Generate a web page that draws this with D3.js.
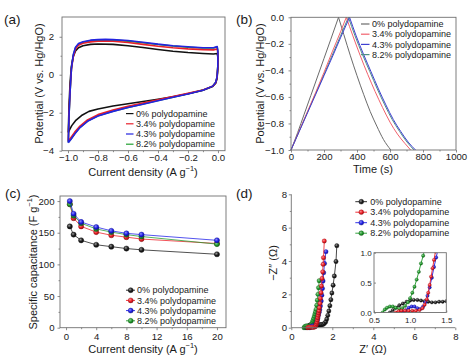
<!DOCTYPE html>
<html><head><meta charset="utf-8">
<script src="https://cdn.jsdelivr.net/npm/d3@7"></script>
<style>body{margin:0;background:#fff}svg{display:block}</style>
</head><body>
<svg id="c" width="474" height="362"></svg>
<script>
// ---------------- DATA ----------------
const seriesNames = ["0% polydopamine", "3.4% polydopamine", "4.3% polydopamine", "8.2% polydopamine"];

// (a) CV loops [x, y]
const cv0 = [[-0.998,-3.04],[-0.993,-1.6],[-0.986,-0.4],[-0.977,0.45],[-0.965,0.95],[-0.95,1.25],[-0.93,1.42],[-0.9,1.53],[-0.85,1.6],[-0.8,1.62],[-0.7,1.6],[-0.6,1.53],[-0.5,1.43],[-0.4,1.33],[-0.3,1.24],[-0.2,1.17],[-0.1,1.12],[-0.03,1.09],[-0.005,1.12],[0,0.9],[-0.001,0.3],[-0.006,-0.2],[-0.015,-0.45],[-0.035,-0.62],[-0.1,-0.82],[-0.2,-1.0],[-0.3,-1.16],[-0.4,-1.29],[-0.5,-1.41],[-0.6,-1.53],[-0.7,-1.65],[-0.8,-1.8],[-0.86,-1.93],[-0.91,-2.15],[-0.95,-2.42],[-0.975,-2.68],[-0.99,-2.9],[-0.998,-3.04]];
const cv1 = [[-0.998,-3.5],[-0.993,-2.0],[-0.986,-0.8],[-0.977,0.3],[-0.965,0.95],[-0.95,1.35],[-0.93,1.55],[-0.9,1.66],[-0.85,1.73],[-0.8,1.76],[-0.75,1.77],[-0.7,1.76],[-0.6,1.7],[-0.5,1.6],[-0.4,1.5],[-0.3,1.42],[-0.2,1.36],[-0.1,1.32],[-0.03,1.31],[-0.005,1.36],[0,1.1],[-0.001,0.4],[-0.006,-0.15],[-0.015,-0.42],[-0.035,-0.6],[-0.1,-0.8],[-0.2,-0.98],[-0.3,-1.15],[-0.4,-1.32],[-0.5,-1.49],[-0.6,-1.66],[-0.7,-1.86],[-0.8,-2.1],[-0.87,-2.38],[-0.92,-2.7],[-0.955,-3.02],[-0.98,-3.3],[-0.998,-3.5]];
const cv2 = [[-0.998,-3.58],[-0.993,-2.1],[-0.986,-0.9],[-0.977,0.35],[-0.965,1.05],[-0.95,1.45],[-0.93,1.64],[-0.9,1.74],[-0.85,1.82],[-0.8,1.85],[-0.75,1.86],[-0.7,1.85],[-0.6,1.8],[-0.5,1.71],[-0.4,1.61],[-0.3,1.53],[-0.2,1.47],[-0.1,1.42],[-0.03,1.42],[-0.005,1.48],[0,1.2],[-0.001,0.45],[-0.006,-0.12],[-0.015,-0.4],[-0.035,-0.6],[-0.1,-0.82],[-0.2,-1.01],[-0.3,-1.19],[-0.4,-1.37],[-0.5,-1.55],[-0.6,-1.73],[-0.7,-1.93],[-0.8,-2.17],[-0.87,-2.45],[-0.92,-2.78],[-0.955,-3.12],[-0.98,-3.4],[-0.998,-3.58]];
const cv3 = [[-0.998,-3.55],[-0.993,-2.1],[-0.986,-0.9],[-0.977,0.33],[-0.965,1.02],[-0.95,1.42],[-0.93,1.61],[-0.9,1.71],[-0.85,1.79],[-0.8,1.82],[-0.75,1.83],[-0.7,1.82],[-0.6,1.77],[-0.5,1.68],[-0.4,1.59],[-0.3,1.51],[-0.2,1.45],[-0.1,1.41],[-0.03,1.41],[-0.005,1.46],[0,1.2],[-0.001,0.45],[-0.006,-0.12],[-0.015,-0.4],[-0.035,-0.6],[-0.1,-0.81],[-0.2,-1.0],[-0.3,-1.18],[-0.4,-1.36],[-0.5,-1.54],[-0.6,-1.72],[-0.7,-1.92],[-0.8,-2.16],[-0.87,-2.44],[-0.92,-2.77],[-0.955,-3.1],[-0.98,-3.38],[-0.998,-3.55]];

// (b) GCD curves [time, potential]
const gcd0 = [[0,-1],[40,-0.87],[80,-0.73],[120,-0.59],[160,-0.45],[200,-0.31],[240,-0.17],[288,0],[320,-0.13],[360,-0.29],[400,-0.44],[440,-0.58],[480,-0.71],[520,-0.82],[560,-0.92],[605,-1.0]];
const gcd1 = [[0,-1],[50,-0.855],[100,-0.71],[150,-0.565],[200,-0.415],[250,-0.26],[300,-0.11],[335,0],[375,-0.14],[420,-0.29],[465,-0.43],[510,-0.56],[555,-0.68],[600,-0.79],[645,-0.88],[690,-0.95],[725,-1.0]];
const gcd2 = [[0,-1],[50,-0.86],[100,-0.72],[150,-0.58],[200,-0.44],[250,-0.3],[300,-0.155],[355,0],[395,-0.14],[440,-0.28],[485,-0.41],[530,-0.54],[575,-0.66],[620,-0.77],[665,-0.86],[710,-0.94],[755,-1.0]];
const gcd3 = [[0,-1],[50,-0.857],[100,-0.715],[150,-0.572],[200,-0.43],[250,-0.285],[300,-0.14],[348,0],[388,-0.14],[433,-0.28],[478,-0.41],[523,-0.54],[568,-0.66],[613,-0.77],[658,-0.86],[703,-0.94],[746,-1.0]];

// (c) rate capability
const currentDensity = [0.5, 1, 2, 4, 6, 8, 10, 20];
const cap0 = [160, 147, 138, 131, 128, 125, 123, 116];
const cap1 = [195, 173, 160, 151, 146, 143, 140, 133];
const cap2 = [200, 180, 167, 159, 153, 149, 147, 138];
const cap3 = [195, 177, 165, 156, 151, 147, 144, 132];

// (d) Nyquist [Z', -Z'']
const eis0 = [[0.72,0.0],[0.76,0.04],[0.80,0.08],[0.85,0.12],[0.90,0.15],[0.95,0.18],[1.00,0.20],[1.05,0.21],[1.10,0.21],[1.15,0.20],[1.20,0.19],[1.25,0.18],[1.30,0.17],[1.35,0.17],[1.40,0.18],[1.45,0.18],[1.50,0.19],[1.56,0.21],[1.62,0.26],[1.68,0.36],[1.73,0.52],[1.78,0.74],[1.83,1.0],[1.88,1.32],[1.93,1.68],[1.98,2.08],[2.04,2.55],[2.1,3.1],[2.18,3.97],[2.22,4.92]];
const eis1 = [[0.80,0.0],[0.84,0.02],[0.88,0.03],[0.93,0.03],[0.98,0.03],[1.03,0.03],[1.08,0.03],[1.13,0.04],[1.17,0.07],[1.20,0.13],[1.23,0.22],[1.25,0.33],[1.27,0.46],[1.29,0.6],[1.31,0.74],[1.33,0.88],[1.35,1.02],[1.37,1.2],[1.40,1.45],[1.42,1.75],[1.45,2.1],[1.47,2.5],[1.5,2.95],[1.53,3.35],[1.55,3.8],[1.57,4.2],[1.61,5.2]];
const eis2 = [[0.90,0.0],[0.94,0.04],[0.98,0.08],[1.02,0.1],[1.06,0.1],[1.10,0.07],[1.14,0.06],[1.18,0.1],[1.21,0.17],[1.24,0.28],[1.27,0.42],[1.30,0.58],[1.33,0.76],[1.36,0.92],[1.39,1.08],[1.42,1.3],[1.46,1.6],[1.49,1.95],[1.52,2.35],[1.55,2.8],[1.58,3.3],[1.62,3.85],[1.69,4.56]];
const eis3 = [[0.62,0.0],[0.65,0.05],[0.68,0.08],[0.72,0.1],[0.76,0.1],[0.80,0.08],[0.85,0.06],[0.89,0.07],[0.93,0.11],[0.97,0.17],[1.00,0.24],[1.03,0.33],[1.06,0.43],[1.09,0.55],[1.12,0.68],[1.15,0.82],[1.18,0.95],[1.21,1.1],[1.24,1.35],[1.27,1.65],[1.30,2.0],[1.33,2.4],[1.36,2.82]];

// tick values
const aXTicks = [-1.0,-0.8,-0.6,-0.4,-0.2,0.0], aYTicks = [-4,-2,0,2];
const bXTicks = [0,200,400,600,800,1000], bYTicks = [-1.0,-0.8,-0.6,-0.4,-0.2,0.0];
const cXTicks = [0,4,8,12,16,20], cYTicks = [0,50,100,150,200];
const dTicks = [0,2,4,6,8];
const insetXTicks = [0.5,1.0,1.5], insetYTicks = [0.0,0.5,1.0];

// ---------------- DRAWING ----------------
const FONT = "'Liberation Sans', Arial, Helvetica, sans-serif";
const AX = "#707070", TXT = "#1a1a1a";
const svg = d3.select("#c").style("font-family", FONT);
const defs = svg.append("defs");

const colA = ["#111111", "#e8202a", "#2323e0", "#22a030"];
const colB = ["#6b6b6b", "#f2616c", "#3f3fd2", "#4f8f86"];
const colM = ["#1a1a1a", "#ee1c24", "#1e1ee8", "#1f9a2a"];
const LF = 9; // legend font size

colM.forEach((c, i) => {
  const g = defs.append("radialGradient").attr("id", "m" + i).attr("cx", "38%").attr("cy", "35%").attr("r", "70%");
  g.append("stop").attr("offset", "0%").attr("stop-color", d3.interpolateRgb(c, "#fff")(i === 0 ? 0.55 : 0.5));
  g.append("stop").attr("offset", "55%").attr("stop-color", c);
  g.append("stop").attr("offset", "100%").attr("stop-color", d3.color(c).darker(1.6));
});

function axis(fn, scale, pos, vals, fmt, size, pad, fs, horiz) {
  const g = svg.append("g").attr("transform", horiz ? `translate(0,${pos})` : `translate(${pos},0)`)
    .call(fn(scale).tickValues(vals).tickFormat(fmt).tickSize(size).tickPadding(pad));
  g.select(".domain").remove();
  g.selectAll("line").attr("stroke", AX).attr("stroke-width", 0.8);
  g.selectAll("text").attr("fill", TXT).style("font-family", FONT).style("font-size", fs + "px");
  return g;
}
const none = () => "";
function frame(x, y) {
  const [x0, x1] = x.range(), [y0, y1] = y.range();
  svg.append("rect").attr("x", Math.min(x0, x1)).attr("y", Math.min(y0, y1))
    .attr("width", Math.abs(x1 - x0)).attr("height", Math.abs(y1 - y0))
    .attr("fill", "none").attr("stroke", AX).attr("stroke-width", 0.9);
}
function title(x, y, main, sup, after, size, rot) {
  const t = svg.append("text").attr("font-size", size).attr("fill", TXT).attr("text-anchor", "middle");
  if (rot) t.attr("transform", `translate(${x},${y}) rotate(-90)`); else t.attr("x", x).attr("y", y);
  t.append("tspan").text(main);
  if (sup) {
    t.append("tspan").attr("dy", -size * 0.42).attr("font-size", size * 0.68).text(sup);
    t.append("tspan").attr("dy", size * 0.42).text(after);
  }
}
function panelLabel(x, y, s) {
  svg.append("text").attr("x", x).attr("y", y).attr("font-size", 13.5).attr("fill", TXT).text(s);
}
const fmt1 = d3.format(".1f"), fmtD = d3.format("d");
const TF = 9.6; // tick font size

function lineLegend(x0, x1, xt, y0, step, cols) {
  seriesNames.forEach((n, i) => {
    const yy = y0 + i * step;
    svg.append("line").attr("x1", x0).attr("x2", x1).attr("y1", yy).attr("y2", yy).attr("stroke", cols[i]).attr("stroke-width", 1.2);
    svg.append("text").attr("x", xt).attr("y", yy + 3.2).attr("font-size", LF).attr("fill", TXT).text(n);
  });
}
function markerLegend(x0, x1, xm, xt, y0, step, r) {
  seriesNames.forEach((n, i) => {
    const yy = y0 + i * step;
    svg.append("line").attr("x1", x0).attr("x2", x1).attr("y1", yy).attr("y2", yy).attr("stroke", colM[i]).attr("stroke-width", 0.9);
    svg.append("circle").attr("cx", xm).attr("cy", yy).attr("r", r).attr("fill", `url(#m${i})`).attr("stroke", d3.color(colM[i]).darker(1.2)).attr("stroke-width", 0.4);
    svg.append("text").attr("x", xt).attr("y", yy + 3.2).attr("font-size", LF).attr("fill", TXT).text(n);
  });
}

// ===== (a) =====
const xa = d3.scaleLinear().domain([-1.04, 0.047]).range([62, 225]);
const ya = d3.scaleLinear().domain([-4, 3.04]).range([150.7, 17]);
const lineA = d3.line().x(d => xa(d[0])).y(d => ya(d[1]));
const cvSets = [cv0, cv1, cv2, cv3];
[3, 0, 1, 2].forEach(i => {
  svg.append("path").attr("d", lineA(cvSets[i])).attr("fill", "none")
    .attr("stroke", colA[i]).attr("stroke-width", 1.6).attr("stroke-linejoin", "round");
});
frame(xa, ya);
axis(d3.axisBottom, xa, 150.7, aXTicks, fmt1, 2.5, 0.5, TF, true);
axis(d3.axisBottom, xa, 150.7, [-0.9,-0.7,-0.5,-0.3,-0.1], none, 1.5, 0, TF, true);
axis(d3.axisLeft, ya, 62, aYTicks, fmtD, 2.5, 5.5, TF, false);
axis(d3.axisLeft, ya, 62, [-3,-1,1], none, 1.5, 0, TF, false);
title(143, 175.5, "Current density (A g", "\u22121", ")", 11, false);
title(43, 83.5, "Potential (V vs. Hg/HgO)", null, null, 11, true);
panelLabel(4, 24, "(a)");
lineLegend(126, 133.5, 136, 113.6, 10.2, colA);

// ===== (b) =====
const xb = d3.scaleLinear().domain([0, 1000]).range([291, 456]);
const yb = d3.scaleLinear().domain([-1, 0]).range([150, 17.3]);
const lineB = d3.line().x(d => xb(d[0])).y(d => yb(d[1])).curve(d3.curveMonotoneX);
const gcdSets = [gcd0, gcd1, gcd2, gcd3];
[0, 3, 1, 2].forEach(i => {
  const d = gcdSets[i];
  const k = d.findIndex(p => p[1] === 0);
  [d.slice(0, k + 1), d.slice(k)].forEach(seg => {
    svg.append("path").attr("d", lineB(seg)).attr("fill", "none").attr("stroke", colB[i]).attr("stroke-width", 1);
  });
});
frame(xb, yb);
axis(d3.axisBottom, xb, 150, bXTicks, fmtD, 2.5, 0.5, TF, true);
axis(d3.axisBottom, xb, 150, [100,300,500,700,900], none, 1.5, 0, TF, true);
axis(d3.axisLeft, yb, 291, bYTicks, fmt1, 2.5, 4.5, TF, false);
axis(d3.axisLeft, yb, 291, [-0.9,-0.7,-0.5,-0.3,-0.1], none, 1.5, 0, TF, false);
title(373, 172.5, "Time (s)", null, null, 11, false);
title(264, 83.5, "Potential (V vs. Hg/HgO)", null, null, 11, true);
panelLabel(236, 24, "(b)");
lineLegend(361, 369.5, 372, 24, 10.2, colB);

// ===== (c) =====
const xc = d3.scaleLinear().domain([-0.8, 21.2]).range([60, 226]);
const yc = d3.scaleLinear().domain([0, 208]).range([327.7, 196]);
const capSets = [cap0, cap1, cap2, cap3];
const lineC = d3.line().x((d, j) => xc(currentDensity[j])).y(d => yc(d));
[0, 1, 3, 2].forEach(i => {
  svg.append("path").attr("d", lineC(capSets[i])).attr("fill", "none").attr("stroke", colM[i]).attr("stroke-width", 0.9).attr("opacity", 0.85);
  svg.append("g").selectAll("circle").data(capSets[i]).join("circle")
    .attr("cx", (d, j) => xc(currentDensity[j])).attr("cy", d => yc(d)).attr("r", 2.6)
    .attr("fill", `url(#m${i})`).attr("stroke", d3.color(colM[i]).darker(1.2)).attr("stroke-width", 0.4);
});
frame(xc, yc);
axis(d3.axisBottom, xc, 327.7, cXTicks, fmtD, 2.5, 3, TF, true);
axis(d3.axisBottom, xc, 327.7, [2,6,10,14,18], none, 1.5, 0, TF, true);
axis(d3.axisLeft, yc, 60, cYTicks, fmtD, 2.5, 3, TF, false);
axis(d3.axisLeft, yc, 60, [25,75,125,175], none, 1.5, 0, TF, false);
title(143, 353, "Current density (A g", "\u22121", ")", 11, false);
title(36.5, 262, "Specific capacitance (F g", "\u22121", ")", 11, true);
panelLabel(5, 197.5, "(c)");
markerLegend(126, 135, 130.7, 137, 290.2, 10.2, 2.5);

// ===== (d) =====
const xd = d3.scaleLinear().domain([0, 8]).range([291.3, 455.3]);
const yd = d3.scaleLinear().domain([0, 8]).range([327.7, 194.3]);
const eisSets = [eis0, eis1, eis2, eis3];
const lineD = d3.line().x(d => xd(d[0])).y(d => yd(d[1]));
[0, 3, 2, 1].forEach(i => {
  svg.append("path").attr("d", lineD(eisSets[i])).attr("fill", "none").attr("stroke", colM[i]).attr("stroke-width", 0.8);
  svg.append("g").selectAll("circle").data(eisSets[i]).join("circle")
    .attr("cx", d => xd(d[0])).attr("cy", d => yd(d[1])).attr("r", 2.2)
    .attr("fill", `url(#m${i})`).attr("stroke", d3.color(colM[i]).darker(1.2)).attr("stroke-width", 0.3);
});
svg.append("line").attr("x1", 291.3).attr("x2", 291.3).attr("y1", 194.3).attr("y2", 327.7).attr("stroke", AX).attr("stroke-width", 0.9);
svg.append("line").attr("x1", 291.3).attr("x2", 455.3).attr("y1", 327.7).attr("y2", 327.7).attr("stroke", AX).attr("stroke-width", 0.9);
axis(d3.axisBottom, xd, 327.7, dTicks, fmtD, 2.5, 3, TF, true);
axis(d3.axisBottom, xd, 327.7, [1,3,5,7], none, 1.5, 0, TF, true);
axis(d3.axisLeft, yd, 291.3, dTicks, fmtD, 2.5, 1.8, TF, false);
axis(d3.axisLeft, yd, 291.3, [1,3,5,7], none, 1.5, 0, TF, false);
title(373, 353, "Z\u2032 (\u03a9)", null, null, 11, false);
title(276.5, 263, "\u2212Z\u2033 (\u03a9)", null, null, 11, true);
panelLabel(236, 197.5, "(d)");
markerLegend(355.3, 367, 361.3, 370.3, 201.7, 10.5, 2.4);

// inset
const xi = d3.scaleLinear().domain([0.5, 1.5]).range([374, 446.3]);
const yi = d3.scaleLinear().domain([0, 1]).range([312.5, 252.7]);
defs.append("clipPath").attr("id", "clipI").append("rect")
  .attr("x", 374).attr("y", 252.7).attr("width", 72.3).attr("height", 59.8);
svg.append("rect").attr("x", 374).attr("y", 252.7).attr("width", 72.3).attr("height", 59.8).attr("fill", "#fff");
const gi = svg.append("g").attr("clip-path", "url(#clipI)");
const lineI = d3.line().x(d => xi(d[0])).y(d => yi(d[1]));
[0, 3, 2, 1].forEach(i => {
  gi.append("path").attr("d", lineI(eisSets[i])).attr("fill", "none").attr("stroke", colM[i]).attr("stroke-width", 0.9);
  gi.append("g").selectAll("circle").data(eisSets[i]).join("circle")
    .attr("cx", d => xi(d[0])).attr("cy", d => yi(d[1])).attr("r", 1.7)
    .attr("fill", `url(#m${i})`).attr("stroke", d3.color(colM[i]).darker(1.2)).attr("stroke-width", 0.3);
});
frame(xi, yi);
axis(d3.axisBottom, xi, 312.5, insetXTicks, fmt1, -2, 4.5, 8, true);
axis(d3.axisLeft, yi, 374, insetYTicks, fmt1, -2, 2.3, 8, false);
</script>
</body></html>
